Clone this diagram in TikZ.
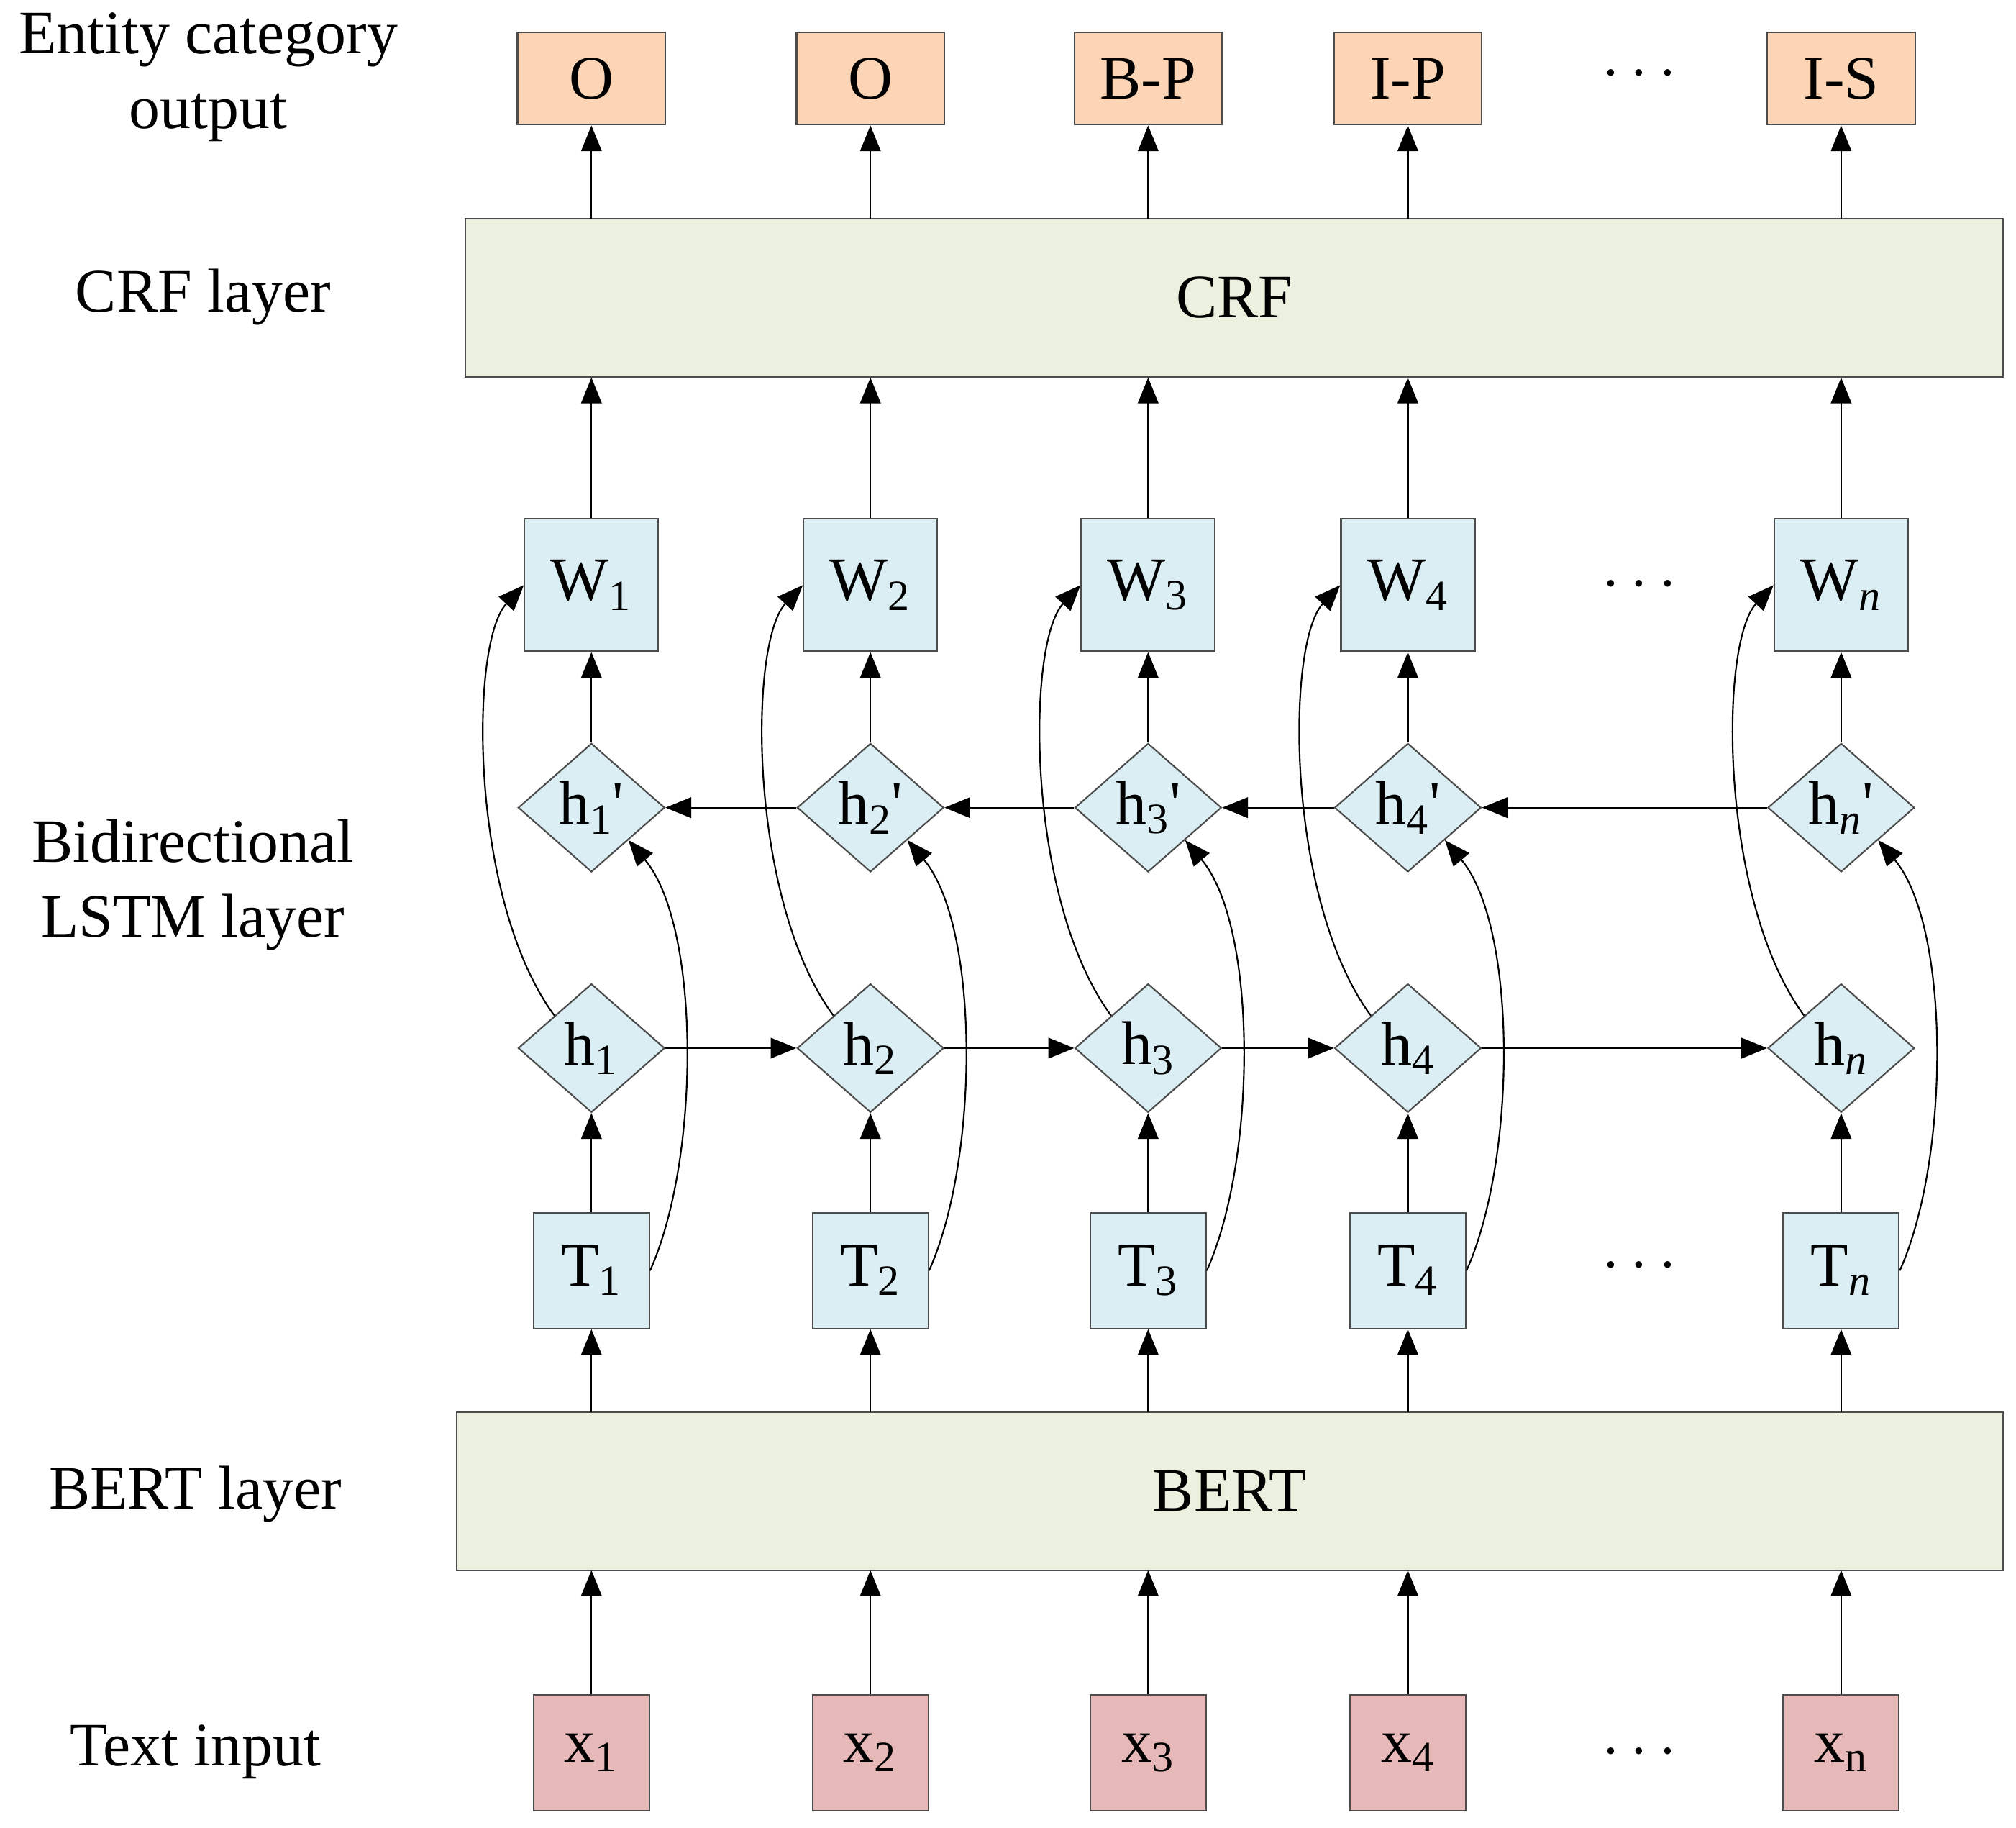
\documentclass[tikz,border=0pt]{standalone}
\usepackage{fontspec}
\setmainfont{Liberation Serif}
\usetikzlibrary{arrows.meta,shapes.geometric}
\definecolor{cor}{HTML}{FBD5B5}
\definecolor{cbl}{HTML}{DAEEF3}
\definecolor{cgr}{HTML}{EBF1DE}
\definecolor{cpk}{HTML}{E6B9B8}
\begin{document}
\begin{tikzpicture}[x=0.5pt,y=-0.5pt,
  every node/.style={font=\fontsize{24}{28}\selectfont},
  box/.style={draw=black!70,line width=0.6pt,inner sep=0pt,minimum width=#1},
  dia/.style={diamond,draw=black!70,line width=0.6pt,fill=cbl,inner sep=0pt,minimum width=57pt,minimum height=50pt},
  arr/.style={-{Triangle[length=10pt,width=8pt]},line width=0.6pt},
  lab/.style={align=center,font=\fontsize{24}{29}\selectfont}]
\useasboundingbox (0,0) rectangle (1568,1421);
\node[box,fill=cgr,minimum width=598pt,minimum height=61.5pt] (crf) at (960,231.5) {CRF};
\node[box,fill=cgr,minimum width=601.5pt,minimum height=61.5pt] (bert) at (956.5,1159.5) {BERT};
\foreach \i/\c/\o/\s [count=\k] in {1/460/O/1,2/677/O/2,3/893/B-P/3,4/1095/I-P/4,5/1432/I-S/\textit{n}}{
  \node[box=57.5pt,fill=cor,minimum height=36pt] (o\i) at (\c,61) {\o};
  \node[box=52pt,fill=cbl,minimum height=51.5pt] (w\i) at (\c,455) {W\textsubscript{\s}};
  \node[dia] (hp\i) at (\c,628) {h\textsubscript{\s}\textquotesingle};
  \node[dia] (h\i) at (\c,815) {h\textsubscript{\s}};
  \node[box=45pt,fill=cbl,minimum height=45pt] (t\i) at (\c,988) {T\textsubscript{\s}};
  \draw[arr] (w\i.north) -- (w\i.north |- crf.south);
  \draw[arr] (\c,170) -- (o\i.south);
  \draw[arr] (hp\i.north) -- (w\i.south);
  \draw[arr] (t\i.north) -- (h\i.south);
  \draw[arr] (\c,1098) -- (t\i.south);
  \draw[arr] (h\i.north west) .. controls (\c-95,700) and (\c-95,500) .. (w\i.west);
  \draw[arr] (t\i.east) .. controls (\c+85,900) and (\c+85,720) .. (hp\i.south east);
}
\foreach \i/\c/\s in {1/460/1,2/677/2,3/893/3,4/1095/4,5/1432/n}{
  \node[box=45pt,fill=cpk,minimum height=45pt] (x\i) at (\c,1363) {x\textsubscript{\s}};
  \draw[arr] (x\i.north) -- (\c,1221);
}
\foreach \a/\b in {1/2,2/3,3/4,4/5}{
  \draw[arr] (h\a.east) -- (h\b.west);
  \draw[arr] (hp\b.west) -- (hp\a.east);
}
\foreach \y/\n in {58/d1,455/d2,985/d3,1363/d4}
  \node[font=\fontsize{30}{30}\selectfont] (\n) at (1275,\y) {$\cdots$};
\node[lab] (l1) at (162,60) {Entity category\\output};
\node[lab] (l2) at (158,231) {CRF layer};
\node[lab] (l3) at (150,688) {Bidirectional\\LSTM layer};
\node[lab] (l4) at (152,1162) {BERT layer};
\node[lab] (l5) at (152,1362) {Text input};
\end{tikzpicture}
\end{document}
